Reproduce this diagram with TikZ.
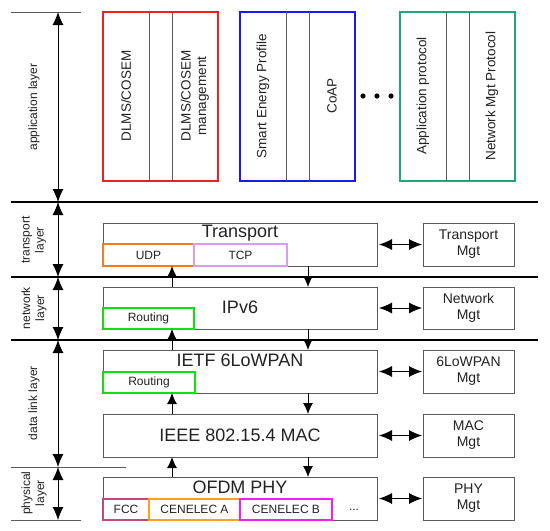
\documentclass[tikz,border=0pt]{standalone}
\usepackage{fontspec}
\setmainfont{Liberation Sans}
\usetikzlibrary{arrows.meta}
\definecolor{boxgray}{HTML}{5A5A5A}
\definecolor{txtgray}{HTML}{222222}
\definecolor{appred}{HTML}{F02020}
\definecolor{appblue}{HTML}{1A1AF0}
\definecolor{appgreen}{HTML}{20A878}
\definecolor{udporange}{HTML}{F57A20}
\definecolor{tcpviolet}{HTML}{D79BF0}
\definecolor{routegreen}{HTML}{10E010}
\definecolor{fccpink}{HTML}{C04A7A}
\definecolor{cenA}{HTML}{FFA020}
\definecolor{cenB}{HTML}{F020F0}
\tikzset{
  box/.style={draw=boxgray, line width=0.9pt, anchor=north west, inner sep=0pt, outer sep=0pt},
  sub/.style={line width=1.6pt, anchor=north west, inner sep=0pt, outer sep=0pt, text=txtgray, font=\fontsize{12}{13}\selectfont},
  bigtxt/.style={text=txtgray, font=\fontsize{18}{20}\selectfont, inner sep=0pt},
  mgttxt/.style={text=txtgray, font=\fontsize{14}{16}\selectfont, align=center},
  apptxt/.style={text=txtgray, font=\fontsize{13.5}{15.5}\selectfont, align=center, rotate=90},
  laytxt/.style={text=txtgray, font=\fontsize{12}{14}\selectfont, align=center, rotate=90},
  sepline/.style={line width=2.2pt, black},
  greyline/.style={line width=0.9pt, boxgray},
  arr/.style={line width=0.9pt, black, -{Latex[length=11pt,width=10pt]}},
  darr/.style={line width=0.9pt, black, {Latex[length=13pt,width=11pt]}-{Latex[length=13pt,width=11pt]}},
}
\begin{document}
\begin{tikzpicture}[x=1pt,y=-1pt]
  \useasboundingbox (0,0) rectangle (550,531);
  % application boxes
  \node[box, draw=appred, line width=1.3pt, minimum width=115pt, minimum height=169pt] (dlms) at (103,12) {};
  \draw[greyline] (149,12) -- (149,181) (172,12) -- (172,181);
  \node[apptxt] (dlmsa) at (126,96) {DLMS/COSEM};
  \node[apptxt] (dlmsb) at (195,96) {DLMS/COSEM\\management};
  \node[box, draw=appblue, line width=1.3pt, minimum width=115pt, minimum height=169pt] (sep) at (240,12) {};
  \draw[greyline] (286,12) -- (286,181) (309,12) -- (309,181);
  \node[apptxt] (sepa) at (263,96) {Smart Energy Profile};
  \node[apptxt] (coap) at (332,96) {CoAP};
  \foreach \x in {363,377,391} \fill (\x,96) circle (2.6pt);
  \node[box, draw=appgreen, line width=1.3pt, minimum width=115pt, minimum height=169pt] (aprot) at (400,12) {};
  \draw[greyline] (446,12) -- (446,181) (469,12) -- (469,181);
  \node[apptxt] (aproa) at (423,96) {Application protocol};
  \node[apptxt] (aprob) at (492,96) {Network Mgt Protocol};
  % layer separators
  \draw[greyline] (11,12) -- (81,12);
  \draw[sepline] (11,202) -- (538,202);
  \draw[sepline] (11,277) -- (538,277);
  \draw[sepline] (11,340) -- (538,340);
  \draw[greyline] (11,467) -- (126,467);
  \draw[greyline] (11,520) -- (81,520);
  % layer arrows
  \coordinate (l0) at (58,12);
  \coordinate (l1) at (58,202);
  \coordinate (l2) at (58,277);
  \coordinate (l3) at (58,340);
  \coordinate (l4) at (58,467);
  \coordinate (l5) at (58,520);
  \draw[darr] (l0) -- (l1);
  \draw[darr] (l1) -- (l2);
  \draw[darr] (l2) -- (l3);
  \draw[darr] (l3) -- (l4);
  \draw[darr] (l4) -- (l5);
  \node[laytxt] (lapp) at (34,107) {application layer};
  \node[laytxt] (ltra) at (34,240) {transport\\layer};
  \node[laytxt] (lnet) at (34,308) {network\\layer};
  \node[laytxt] (ldat) at (34,403) {data link layer};
  \node[laytxt] (lphy) at (34,493) {physical\\layer};
  % protocol stack
  \node[box, minimum width=274pt, minimum height=43pt] (trans) at (103,223) {};
  \node[bigtxt] (transt) at (240,233) {Transport};
  \node[sub, draw=udporange, minimum width=91pt, minimum height=22pt] (udp) at (103,244) {UDP};
  \node[sub, draw=tcpviolet, minimum width=93pt, minimum height=22pt] (tcp) at (194,244) {TCP};
  \node[box, minimum width=274pt, minimum height=42pt] (ipv6) at (103,287) {};
  \node[bigtxt] (ipv6t) at (240,307) {IPv6};
  \node[sub, draw=routegreen, minimum width=91pt, minimum height=21pt] (route1) at (103,308) {Routing};
  \node[box, minimum width=274pt, minimum height=43pt] (lowpan) at (103,350) {};
  \node[bigtxt] (lowpant) at (240,360) {IETF 6LoWPAN};
  \node[sub, draw=routegreen, minimum width=92pt, minimum height=21pt] (route2) at (103,372) {Routing};
  \node[box, minimum width=274pt, minimum height=43pt] (mac) at (103,414) {};
  \node[bigtxt] (mact) at (240,435.5) {IEEE 802.15.4 MAC};
  \node[box, minimum width=274pt, minimum height=43pt] (phy) at (103,477) {};
  \node[bigtxt] (phyt) at (240,487) {OFDM PHY};
  \node[sub, draw=fccpink, minimum width=46pt, minimum height=21pt] (fcc) at (103,499) {FCC};
  \node[sub, draw=cenA, minimum width=91pt, minimum height=21pt] (cena) at (149,499) {CENELEC A};
  \node[sub, draw=cenB, minimum width=92pt, minimum height=21pt] (cenb) at (240,499) {CENELEC B};
  \node[text=txtgray, font=\fontsize{12}{13}\selectfont] (more) at (354,510) {...};
  % management boxes
  \node[box, minimum width=91pt, minimum height=43pt] (tmgt) at (423,223) {};
  \node[mgttxt] at (tmgt.center) {Transport\\Mgt};
  \node[box, minimum width=91pt, minimum height=42pt] (nmgt) at (423,287) {};
  \node[mgttxt] at (nmgt.center) {Network\\Mgt};
  \node[box, minimum width=91pt, minimum height=43pt] (lmgt) at (423,350) {};
  \node[mgttxt] at (lmgt.center) {6LoWPAN\\Mgt};
  \node[box, minimum width=91pt, minimum height=43pt] (mmgt) at (423,414) {};
  \node[mgttxt] at (mmgt.center) {MAC\\Mgt};
  \node[box, minimum width=91pt, minimum height=43pt] (pmgt) at (423,477) {};
  \node[mgttxt] at (pmgt.center) {PHY\\Mgt};
  \draw[darr] ([xshift=2pt]trans.east) -- ([xshift=-1pt]tmgt.west);
  \draw[darr] ([xshift=2pt]ipv6.east) -- ([xshift=-1pt]nmgt.west);
  \draw[darr] ([xshift=2pt]lowpan.east) -- ([xshift=-1pt]lmgt.west);
  \draw[darr] ([xshift=2pt]mac.east) -- ([xshift=-1pt]mmgt.west);
  \draw[darr] ([xshift=2pt]phy.east) -- ([xshift=-1pt]pmgt.west);
  % data flow
  \draw[arr] ([xshift=69pt]ipv6.north west) -- ([xshift=69pt]trans.south west);
  \draw[arr] ([xshift=205pt]trans.south west) -- ([xshift=205pt]ipv6.north west);
  \draw[arr] ([xshift=69pt]lowpan.north west) -- ([xshift=69pt]ipv6.south west);
  \draw[arr] ([xshift=205pt]ipv6.south west) -- ([xshift=205pt]lowpan.north west);
  \draw[arr] ([xshift=69pt]mac.north west) -- ([xshift=69pt]lowpan.south west);
  \draw[arr] ([xshift=205pt]lowpan.south west) -- ([xshift=205pt]mac.north west);
  \draw[arr] ([xshift=69pt]phy.north west) -- ([xshift=69pt]mac.south west);
  \draw[arr] ([xshift=205pt]mac.south west) -- ([xshift=205pt]phy.north west);
\end{tikzpicture}
\end{document}
